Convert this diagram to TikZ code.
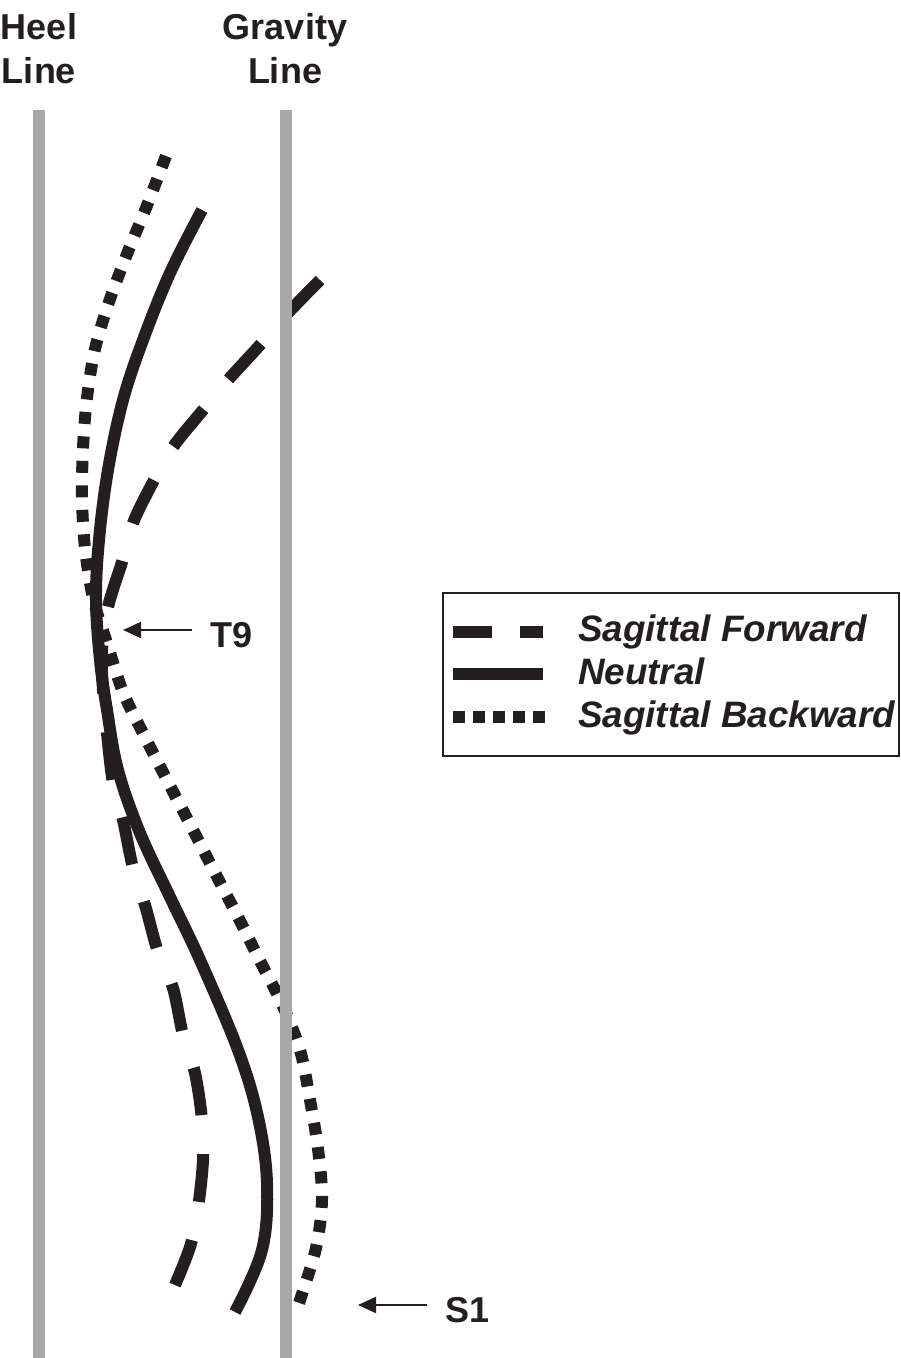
\documentclass[tikz,border=0pt]{standalone}
\usepackage{fontspec}
\setmainfont{Liberation Sans}
\usetikzlibrary{arrows.meta}
\definecolor{ink}{RGB}{35,31,32}
\definecolor{rulegray}{RGB}{168,168,168}
\begin{document}
\begin{tikzpicture}[x=1pt,y=-1pt,
  curve/.style={ink, line width=12pt},
  fwd/.style={curve, dash pattern=on 48pt off 39pt},
  bwd/.style={curve, dash pattern=on 12pt off 12.5pt},
  vline/.style={rulegray, line width=12.5pt},
  lbl/.style={font=\fontsize{36}{44}\selectfont\bfseries, inner sep=0pt, text=ink, anchor=base},
  leg/.style={font=\fontsize{36.8}{44}\selectfont\bfseries\itshape, inner sep=0pt, text=ink, anchor=base west},
  pointer/.style={ink, line width=2pt, -{Triangle[length=18pt,width=16pt]}}
]
\useasboundingbox (0,0) rectangle (900,1358);
\fill[white] (0,0) rectangle (900,1358);

% curves
\draw[fwd] plot[smooth, tension=0.55] coordinates {
 (320,280) (287,314) (260,345) (228,380) (203,410) (173,447) (153,482)
 (133,523) (122,562) (108,607) (102,650) (103,690) (107,733) (113,783)
 (123,820) (133,868) (145,905) (158,952) (173,988) (183,1035) (195,1073)
 (202,1120) (203,1160) (198,1208) (190,1247) (172,1292)};
\draw[curve] plot[smooth, tension=0.6] coordinates {
 (202,210) (170,273) (143,340) (123,400) (108,470) (99,540) (96,600)
 (100,660) (107,710) (118,770) (140,833) (170,897) (200,960)
 (238,1050) (258,1117) (267,1183) (262,1250) (235,1312)};
\draw[bwd] plot[smooth, tension=0.55] coordinates {
 (166,156) (146,208) (127,254) (109,302) (95,349) (87,398) (83,448)
 (82,498) (85,548) (93,598) (107,643) (123,692) (145,737) (168,782)
 (191,826) (214,871) (237,915) (259,959) (282,1004) (300,1050) (310,1100)
 (318,1149) (322,1199) (316,1248) (299,1303)};

% reference lines
\draw[vline] (39,110) coordinate (heeltop) -- (39,1358) coordinate (heelbot);
\draw[vline] (286,110) coordinate (gravtop) -- (286,1358) coordinate (gravbot);

% headings
\node[lbl] (heel1) at (39,39) {Heel};
\node[lbl] (heel2) at (39,83) {Line};
\node[lbl] (grav1) at (285,39) {Gravity};
\node[lbl] (grav2) at (285,83) {Line};

% pointers
\node[lbl, anchor=base west] (t9) at (210,647) {T9};
\coordinate (t9tail) at (192,630);
\coordinate (t9tip) at (123,630);
\draw[pointer] (t9tail) -- (t9tip);
\node[lbl, anchor=base west] (s1) at (445,1322) {S1};
\coordinate (s1tail) at (427,1305);
\coordinate (s1tip) at (358,1305);
\draw[pointer] (s1tail) -- (s1tip);

% legend
\node[draw=ink, line width=2.3pt, minimum width=456pt, minimum height=163pt, anchor=north west, inner sep=0pt] (legbox) at (442,592) {};
\coordinate (fa) at (453,632); \coordinate (fb) at (543,632);
\coordinate (na) at (453,674); \coordinate (nb) at (543,674);
\coordinate (ba) at (453,717); \coordinate (bb) at (545,717);
\draw[curve, dash pattern=on 39pt off 28pt] (fa) -- (fb);
\draw[curve] (na) -- (nb);
\draw[curve, dash pattern=on 12pt off 8pt] (ba) -- (bb);
\node[leg] (lf) at (578,641) {Sagittal Forward};
\node[leg] (ln) at (578,684) {Neutral};
\node[leg] (lb) at (578,727) {Sagittal Backward};
\end{tikzpicture}
\end{document}
